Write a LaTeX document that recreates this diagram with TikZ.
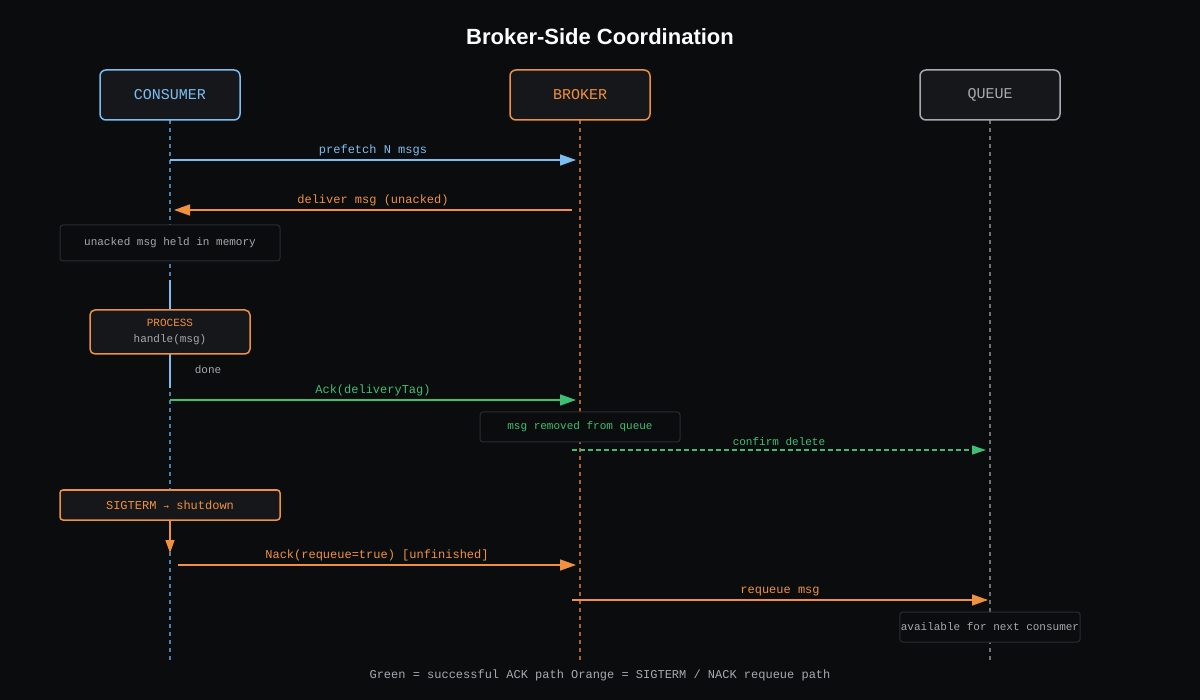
\documentclass[tikz,border=0pt]{standalone}
\usepackage{fontspec}
\setmainfont{Liberation Sans}
\setmonofont{Liberation Mono}
\newfontfamily\symf{DejaVu Sans Mono}
\usetikzlibrary{arrows.meta}
\definecolor{bg}{HTML}{0B0C0E}
\definecolor{cblue}{HTML}{7DBEF0}
\definecolor{corange}{HTML}{F0913F}
\definecolor{cgreen}{HTML}{3FBF74}
\definecolor{cgray}{HTML}{A8A8AE}
\definecolor{boxbg}{HTML}{16171B}
\definecolor{notebd}{HTML}{2A2C30}
\definecolor{lifeb}{HTML}{4E7FAA}
\definecolor{lifeo}{HTML}{A8642C}
\definecolor{lifeg}{HTML}{707074}
\begin{document}
\begin{tikzpicture}[x=1pt,y=-1pt,
 actor/.style={draw,line width=1.5pt,rounded corners=6pt,fill=boxbg,minimum width=140pt,minimum height=50pt,font=\ttfamily\fontsize{15}{17}\selectfont},
 note/.style={draw=notebd,line width=1pt,rounded corners=3pt,fill=bg,font=\ttfamily\fontsize{11}{13}\selectfont},
 lbl/.style={font=\ttfamily\fontsize{12}{14}\selectfont},
 slbl/.style={font=\ttfamily\fontsize{11}{13}\selectfont},
 msg/.style={line width=1.5pt,-{Triangle[length=16pt,width=11pt]}},
 life/.style={line width=1.2pt,dash pattern=on 4pt off 4pt}]
\fill[bg] (0,0) rectangle (1200,700);
\useasboundingbox (0,0) rectangle (1200,700);
\node[font=\bfseries\fontsize{22}{26}\selectfont,text=white] (title) at (600,37) {Broker-Side Coordination};
% lifelines
\coordinate (cT) at (170,120); \coordinate (cB) at (170,660);
\coordinate (bT) at (580,120); \coordinate (bB) at (580,660);
\coordinate (qT) at (990,120); \coordinate (qB) at (990,660);
\draw[life,lifeb] (cT) -- (cB);
\draw[life,lifeo] (bT) -- (bB);
\draw[life,lifeg] (qT) -- (qB);
\node[actor,draw=cblue,text=cblue] (cons) at (170,95) {CONSUMER};
\node[actor,draw=corange,text=corange] (brok) at (580,95) {BROKER};
\node[actor,draw=cgray,text=cgray] (queue) at (990,95) {QUEUE};
% messages
\coordinate (m1a) at (170,160); \coordinate (m1b) at (576,160);
\draw[msg,cblue] (m1a) -- node[lbl,above,text=cblue]{prefetch N msgs} (m1b);
\coordinate (m2a) at (572,210); \coordinate (m2b) at (174,210);
\draw[msg,corange] (m2a) -- node[lbl,above,text=corange]{deliver msg (unacked)} (m2b);
\node[note,minimum width=220pt,minimum height=36pt,text=cgray] (n1) at (170,243) {unacked msg held in memory};
\draw[cblue,line width=1.5pt] (170,280) -- (170,310);
\draw[cblue,line width=1.5pt] (170,354) -- (170,388);
\node[draw=corange,line width=1.5pt,rounded corners=5pt,fill=boxbg,minimum width=160pt,minimum height=44pt,align=center,font=\ttfamily\fontsize{11}{16}\selectfont] (proc) at (170,332) {\textcolor{corange}{PROCESS}\\\textcolor{cgray}{handle(msg)}};
\node[slbl,text=cgray] (done) at (208,370) {done};
\coordinate (m3a) at (170,400); \coordinate (m3b) at (576,400);
\draw[msg,cgreen] (m3a) -- node[lbl,above,text=cgreen]{Ack(deliveryTag)} (m3b);
\node[note,minimum width=200pt,minimum height=30pt,text=cgreen] (n2) at (580,427) {msg removed from queue};
\coordinate (m4a) at (572,450); \coordinate (m4b) at (986,450);
\draw[cgreen,line width=1.3pt,dash pattern=on 5pt off 3pt,-{Triangle[length=14pt,width=9pt]}] (m4a) -- node[slbl,above,text=cgreen]{confirm delete} (m4b);
\node[draw=corange,line width=1.5pt,rounded corners=3pt,fill=boxbg,minimum width=220pt,minimum height=30pt,font=\ttfamily\fontsize{12}{14}\selectfont,text=corange] (sig) at (170,505) {SIGTERM {\symf\fontsize{9}{14}\selectfont →} shutdown};
\coordinate (sd) at (170,553);
\draw[corange,line width=1.5pt,-{Triangle[length=13pt,width=9pt]}] (sig) -- (sd);
\coordinate (m5a) at (178,565); \coordinate (m5b) at (576,565);
\draw[msg,corange] (m5a) -- node[lbl,above,text=corange]{Nack(requeue=true) [unfinished]} (m5b);
\coordinate (m6a) at (572,600); \coordinate (m6b) at (988,600);
\draw[msg,corange] (m6a) -- node[lbl,above,text=corange]{requeue msg} (m6b);
\node[note,minimum width=180pt,minimum height=30pt,text=cgray,inner sep=1pt] (n3) at (990,627) {available for next consumer};
\node[lbl,text=cgray] (legend) at (600,675) {Green = successful ACK path Orange = SIGTERM / NACK requeue path};
\end{tikzpicture}
\end{document}
